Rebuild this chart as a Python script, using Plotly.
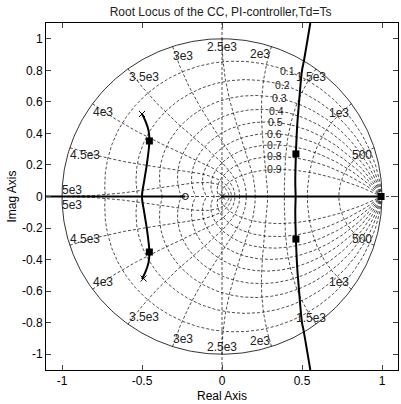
import numpy as np
import plotly.graph_objects as go

# ---------------- data ----------------
ZETA_VALUES = [0.1, 0.2, 0.3, 0.4, 0.5, 0.6, 0.7, 0.8, 0.9]
WN_LABELS = ["500", "1e3", "1.5e3", "2e3", "2.5e3", "3e3", "3.5e3", "4e3", "4.5e3", "5e3"]

# root-locus branches (upper half; lower half is the mirror image)
LEFT_BRANCH_X = [-0.500, -0.479, -0.459, -0.454, -0.469, -0.486, -0.500]
LEFT_BRANCH_Y = [0.523, 0.480, 0.418, 0.350, 0.209, 0.101, 0.000]
RIGHT_BRANCH_X = [0.552, 0.510, 0.500, 0.479, 0.470, 0.462, 0.458, 0.460]
RIGHT_BRANCH_Y = [1.100, 0.850, 0.800, 0.565, 0.450, 0.270, 0.100, 0.000]
REAL_SEG_LEFT = [-1.1, -0.229]
REAL_SEG_RIGHT = [0.0, 1.0]

# open-loop poles / zeros and closed-loop poles
POLE_X = [-0.500, -0.490, 0.0]
POLE_Y = [0.523, -0.520, 0.0]
ZERO_X = [-0.229]
ZERO_Y = [0.0]
CL_X = [-0.454, -0.454, 0.462, 0.462, 0.994]
CL_Y = [0.352, -0.352, 0.270, -0.270, 0.0]

X_TICKS = [-1, -0.5, 0, 0.5, 1]
X_TICKTEXT = ["-1", "-0.5", "0", "0.5", "1"]
Y_TICKS = [-1, -0.8, -0.6, -0.4, -0.2, 0, 0.2, 0.4, 0.6, 0.8, 1]
Y_TICKTEXT = ["-1", "-0.8", "-0.6", "-0.4", "-0.2", "0", "0.2", "0.4", "0.6", "0.8", "1"]

# label placement (layout only)
WN_LABEL_POS = [(0.876, 0.26), (0.73, 0.53), (0.555, 0.758), (0.24, 0.903), (0.0, 0.945),
                (-0.245, 0.892), (-0.486, 0.755), (-0.745, 0.533), (-0.854, 0.26), (-0.938, 0.044)]
ZETA_LABEL_WNT = 1.1

fig = go.Figure()

# ---------------- zgrid ----------------
gx, gy = [], []
theta = np.linspace(0, np.pi, 300)
for z in ZETA_VALUES:
    r = np.exp(-z * theta / np.sqrt(1 - z * z))
    for s in (1, -1):
        gx += list(r * np.cos(theta)) + [None]
        gy += list(s * r * np.sin(theta)) + [None]
zz = np.linspace(0, 1, 200)
for k in range(1, 11):
    wnt = k * np.pi / 10
    r = np.exp(-zz * wnt)
    ang = wnt * np.sqrt(1 - zz * zz)
    for s in (1, -1):
        gx += list(r * np.cos(ang)) + [None]
        gy += list(s * r * np.sin(ang)) + [None]
gx += [-1.1, 1.1, None, 0, 0]
gy += [0, 0, None, -1.1, 1.1]
fig.add_trace(go.Scatter(x=gx, y=gy, mode="lines", hoverinfo="skip",
                         line=dict(color="black", width=0.7, dash="3px,2px")))
t = np.linspace(0, 2 * np.pi, 400)
fig.add_trace(go.Scatter(x=np.cos(t), y=np.sin(t), mode="lines", hoverinfo="skip",
                         line=dict(color="black", width=0.8)))

# ---------------- locus ----------------
for bx, by in ((LEFT_BRANCH_X, LEFT_BRANCH_Y), (RIGHT_BRANCH_X, RIGHT_BRANCH_Y)):
    xs = list(bx) + list(bx[::-1][1:])
    ys = list(by) + [-v for v in by[::-1][1:]]
    fig.add_trace(go.Scatter(x=xs, y=ys, mode="lines", line=dict(color="black", width=2, shape="spline")))
for seg in (REAL_SEG_LEFT, REAL_SEG_RIGHT):
    fig.add_trace(go.Scatter(x=seg, y=[0, 0], mode="lines", line=dict(color="black", width=2)))

fig.add_trace(go.Scatter(x=POLE_X, y=POLE_Y, mode="markers",
                         marker=dict(symbol="x-thin-open", size=6, color="black",
                                     line=dict(color="black", width=1))))
fig.add_trace(go.Scatter(x=ZERO_X, y=ZERO_Y, mode="markers",
                         marker=dict(symbol="circle-open", size=6, color="black", line=dict(color="black", width=1))))
fig.add_trace(go.Scatter(x=CL_X, y=CL_Y, mode="markers",
                         marker=dict(symbol="square", size=7, color="black")))

# ---------------- labels ----------------
ann = []
lab_font = dict(family="Liberation Sans, Arial", size=12, color="#222222")
zlab_font = dict(family="Liberation Sans, Arial", size=10.5, color="#222222")
for lab, (px, py) in zip(WN_LABELS, WN_LABEL_POS):
    ann.append(dict(x=px, y=py, text=lab, showarrow=False, font=lab_font))
    ann.append(dict(x=px, y=-py - 0.01, text=lab, showarrow=False, font=lab_font))
for z in ZETA_VALUES:
    r = np.exp(-z * ZETA_LABEL_WNT)
    a = ZETA_LABEL_WNT * np.sqrt(1 - z * z)
    ann.append(dict(x=r * np.cos(a), y=r * np.sin(a), text=f"{z:.1f}", showarrow=False, font=zlab_font))

fig.update_layout(
    width=401, height=404,
    margin=dict(l=46, r=3, t=23, b=34),
    paper_bgcolor="white", plot_bgcolor="white",
    showlegend=False,
    annotations=ann,
    font=dict(family="Liberation Sans, Arial", size=12, color="black"),
    title=dict(text="Root Locus of the CC, PI-controller,Td=Ts", x=0.55, xanchor="center",
               y=0.97, yanchor="middle", font=dict(size=12, color="#222222")),
)
fig.update_xaxes(range=[-1.1, 1.1], tickvals=X_TICKS, ticktext=X_TICKTEXT, ticks="inside", ticklen=5,
                 showline=True, linecolor="black", linewidth=1, mirror="allticks", showgrid=False,
                 zeroline=False, title=dict(text="Real Axis", standoff=4, font=dict(size=12)))
fig.update_yaxes(range=[-1.1, 1.1], tickvals=Y_TICKS, ticktext=Y_TICKTEXT, ticks="inside", ticklen=5,
                 showline=True, linecolor="black", linewidth=1, mirror="allticks", showgrid=False,
                 zeroline=False, title=dict(text="Imag Axis", standoff=2, font=dict(size=12)))

fig.write_html("out.html")
